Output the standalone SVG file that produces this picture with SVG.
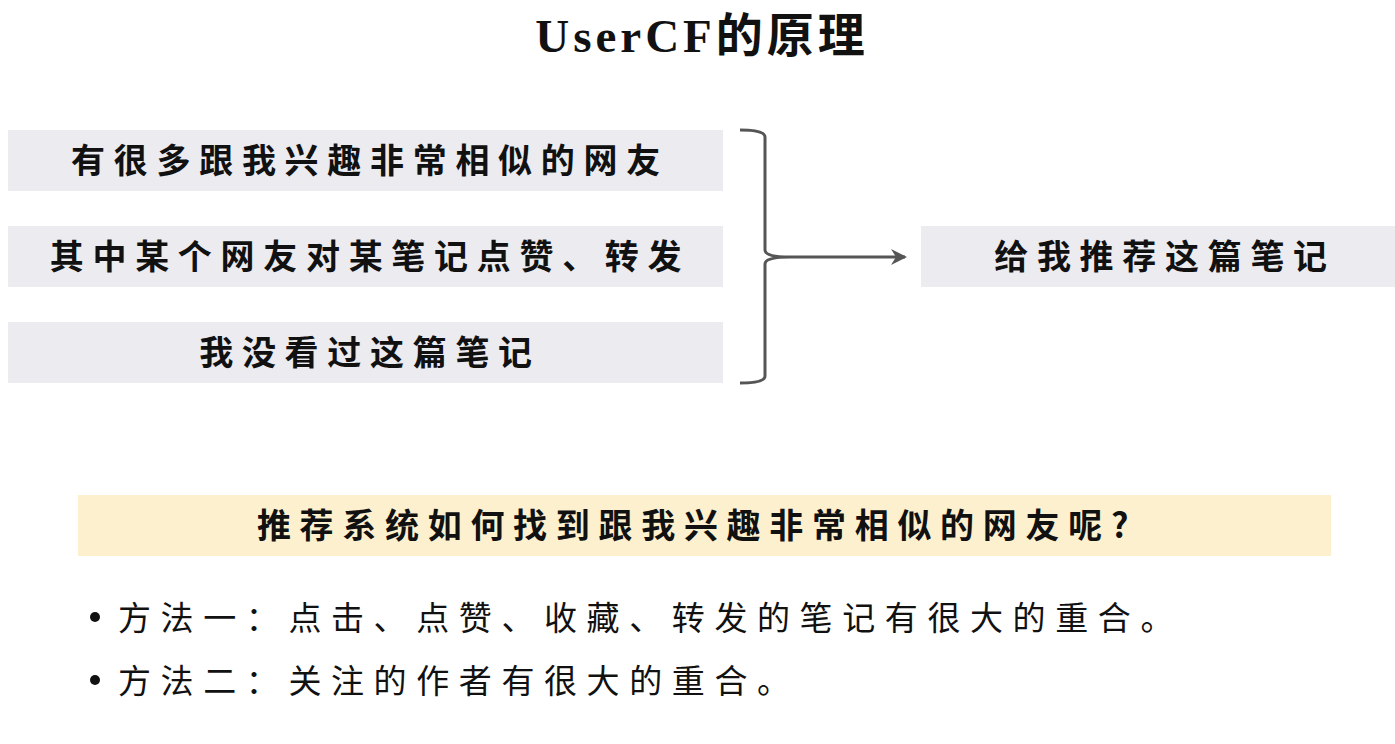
<svg xmlns="http://www.w3.org/2000/svg" width="1395" height="744" viewBox="0 0 1395 744">
<style>
.b{fill:#ebebf0}
.t{font-family:"Noto Sans CJK SC",sans-serif;font-weight:bold;font-size:34px;fill:#111;text-anchor:middle;letter-spacing:8.7px}
.l{font-family:"Noto Sans CJK SC",sans-serif;font-size:33px;fill:#111;letter-spacing:9.6px}
</style>
<defs><marker id="a" markerWidth="16" markerHeight="16" refX="14" refY="8" orient="auto" markerUnits="userSpaceOnUse"><path d="M0,0 L16,8 L0,16 L5,8 Z" fill="#555"/></marker></defs>
<rect width="1395" height="744" fill="#fff"/>
<text x="702" y="52" font-family="'Liberation Serif','Noto Sans CJK SC',serif" font-weight="bold" font-size="47" text-anchor="middle" fill="#111" letter-spacing="4">UserCF的原理</text>
<g id="n1"><rect class="b" x="8" y="130" width="715" height="61"/><text class="t" x="370" y="173">有很多跟我兴趣非常相似的网友</text></g>
<g id="n2"><rect class="b" x="8" y="226" width="715" height="61"/><text class="t" x="370" y="269">其中某个网友对某笔记点赞、转发</text></g>
<g id="n3"><rect class="b" x="8" y="322" width="715" height="61"/><text class="t" x="370" y="365">我没看过这篇笔记</text></g>
<g id="n4"><rect class="b" x="921" y="226" width="474" height="61"/><text class="t" x="1165" y="269">给我推荐这篇笔记</text></g>
<g id="n5"><rect x="78" y="495" width="1253" height="61" fill="#fcf0cf"/><text class="t" x="697" y="538" letter-spacing="4.5">推荐系统如何找到跟我兴趣非常相似的网友呢?</text></g>
<g id="connectors" fill="none" stroke="#555" stroke-width="3">
<path d="M740,130 Q765,130 765,137 L765,250 Q765,257 790,257 M790,257 Q765,257 765,264 L765,376 Q765,383 740,383"/>
<path d="M790,257 L905,257" marker-end="url(#a)"/>
</g>
<g id="bullets">
<circle cx="95" cy="617" r="5" fill="#111"/><text class="l" x="118" y="630">方法一：点击、点赞、收藏、转发的笔记有很大的重合。</text>
<circle cx="95" cy="680" r="5" fill="#111"/><text class="l" x="118" y="693">方法二：关注的作者有很大的重合。</text>
</g>
</svg>
